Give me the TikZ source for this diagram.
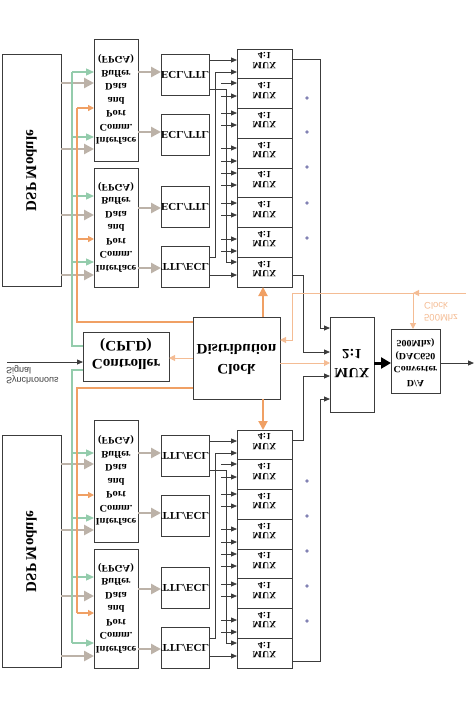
\documentclass[tikz,border=0pt]{standalone}
\usepackage{fontspec}
\setmainfont{Liberation Serif}
\setsansfont{Liberation Sans}
\usepackage{graphicx}
\usetikzlibrary{arrows.meta}
\definecolor{greyc}{RGB}{188,178,168}
\definecolor{greenc}{RGB}{148,204,172}
\definecolor{orangec}{RGB}{240,160,100}
\definecolor{lorangec}{RGB}{244,188,148}
\definecolor{dotc}{RGB}{130,130,180}
\definecolor{linec}{RGB}{60,60,60}
\newcommand\fl[1]{\scalebox{1.05}[-1]{#1}}
\newcommand\fll[1]{\scalebox{1.05}[-1]{\begin{tabular}{@{}c@{}}#1\end{tabular}}}
\newcommand\fllL[1]{\scalebox{1.0}[-1]{\begin{tabular}{@{}l@{}}#1\end{tabular}}}
\begin{document}
\begin{tikzpicture}[x=1pt,y=-1pt,
 box/.style={draw=linec,line width=0.8pt,fill=white,inner sep=0pt,outer sep=0pt},
 txt/.style={inner sep=0pt,outer sep=0pt,font=\bfseries\fontsize{10}{13.5}\selectfont},
 gar/.style={draw=greyc,line width=2.8pt,-{Triangle[length=10pt,width=10pt]}},
 grn/.style={draw=greenc,line width=1.3pt},
 grna/.style={grn,-{Triangle[length=8pt,width=7pt]}},
 org/.style={draw=orangec,line width=1.3pt},
 orgk/.style={draw=orangec,line width=2pt},
 orga/.style={org,-{Triangle[length=6pt,width=6pt]}},
 orgb/.style={orgk,-{Triangle[length=9pt,width=9pt]}},
 lorg/.style={draw=lorangec,line width=1pt},
 lorga/.style={lorg,-{Triangle[length=6pt,width=6pt]}},
 blk/.style={draw=linec,line width=0.8pt},
 blka/.style={blk,-{Triangle[length=6pt,width=5pt]}},
]
\useasboundingbox (0,0) rectangle (474,701);

% ---------------- two identical groups ----------------
\foreach \o/\g in {0/A,381/B}{
 \node[box,minimum width=59pt,minimum height=232pt] (dsp\g) at (31.5,170.5+\o) {};
 \node[txt,font=\bfseries\fontsize{15}{18}\selectfont] at (dsp\g) {\scalebox{1}[-1]{\rotatebox{-90}{DSP Module}}};
 \node[box,minimum width=44pt,minimum height=122pt] (if\g1) at (116,100+\o) {};
 \node[box,minimum width=44pt,minimum height=119pt] (if\g2) at (116,227.5+\o) {};
 \foreach \i in {1,2}{
  \node[txt] at (if\g\i) {\fll{Interface\\Comm.\\Port\\and\\Data\\Buffer\\(FPGA)}};
 }
 \node[box,minimum width=48pt,minimum height=41pt] (e\g1) at (185,75+\o) {};
 \node[box,minimum width=48pt,minimum height=41pt] (e\g2) at (185,134.5+\o) {};
 \node[box,minimum width=48pt,minimum height=41pt] (e\g3) at (185,206.5+\o) {};
 \node[box,minimum width=48pt,minimum height=41pt] (e\g4) at (185,266.5+\o) {};
 \foreach \k in {1,...,8}{
  \node[box,minimum width=55pt,minimum height=29.75pt] (m\g\k) at (264.5,49+\o+\k*29.75-14.875) {};
  \node[txt,font=\bfseries\fontsize{9.5}{9.5}\selectfont] at (264.5,49+\o+\k*29.75-29.75+10.5) {\fll{MUX\\4:1}};
 }
 % DSP -> interface (thick grey)
 \foreach \y/\t in {83/1,149/1,215/2,275/2}{
  \draw[gar] (dsp\g.east |- 0,\y+\o) -- (if\g\t.west |- 0,\y+\o);
 }
 % interface -> ECL (thick grey)
 \draw[gar] (if\g1.east |- 0,72+\o) -- (e\g1.west |- 0,72+\o);
 \draw[gar] (if\g1.east |- 0,132+\o) -- (e\g2.west |- 0,132+\o);
 \draw[gar] (if\g2.east |- 0,208+\o) -- (e\g3.west |- 0,208+\o);
 \draw[gar] (if\g2.east |- 0,268+\o) -- (e\g4.west |- 0,268+\o);
 % green arrows
 \foreach \y/\t in {72/1,137/1,196/2,262/2}{
  \draw[grna] (72,\y+\o) -- (if\g\t.west |- 0,\y+\o);
 }
 % stub inputs into the 4:1 MUXes
 \foreach \y in {83,96,113,125,148,161,173,185,203,215,239,251}{
  \draw[blka] (221,\y+\o) -- (237,\y+\o);
 }
 \draw[blka] (e\g1.east |- 0,60+\o) -- (m\g1.west |- 0,60+\o);
 \draw[blka] (e\g4.east |- 0,275+\o) -- (m\g8.west |- 0,275+\o);
 \draw[blka] (e\g4.east |- 0,257+\o) -- (215,257+\o) -- (215,72+\o) -- (m\g1.west |- 0,72+\o);
 \draw[blka] (e\g1.east |- 0,89+\o) -- (226,89+\o) -- (226,262+\o) -- (m\g8.west |- 0,262+\o);
}
% ECL texts
\foreach \n in {A1,A2,A3}{\node[txt,font=\bfseries\fontsize{10.5}{12}\selectfont] at (e\n) {\fl{ECL/TTL}};}
\foreach \n in {A4,B1,B2,B3,B4}{\node[txt,font=\bfseries\fontsize{10.5}{12}\selectfont] at (e\n) {\fl{TTL/ECL}};}

% dots
\foreach \y in {98,132,167,203,238,481,516,551,586,621}{
 \fill[dotc] (307,\y) circle (1.8pt);
}

% ---------------- centre blocks ----------------
\node[box,minimum width=86pt,minimum height=49pt] (ctl) at (126,356.5) {};
\node[txt,font=\bfseries\fontsize{14.5}{18}\selectfont] at (126,354.5) {\fll{Controller\\(CPLD)}};
\node[box,minimum width=87pt,minimum height=82pt] (clk) at (236.5,358) {};
\node[txt,font=\bfseries\fontsize{14.5}{20}\selectfont] at (236.5,358) {\fll{Clock\\Distribution}};
\node[box,minimum width=44pt,minimum height=95pt] (mx) at (352,364.5) {};
\node[txt,font=\bfseries\fontsize{14}{19}\selectfont] at (352,362.5) {\fll{MUX\\2:1}};
\node[box,minimum width=49pt,minimum height=64pt] (dac) at (415.5,361) {};
\node[txt,font=\bfseries\fontsize{9.5}{13.3}\selectfont] at (415.5,363) {\fll{D/A\\Converter\\(DAC650\\500Mhz)}};

% outputs of 4:1 MUXes to 2:1 MUX
\draw[blka] (mA1.east |- 0,59) -- (320,59) -- (320,328) -- (mx.west |- 0,328);
\draw[blka] (mA8.east |- 0,275) -- (303,275) -- (303,352) -- (mx.west |- 0,352);
\draw[blka] (mB1.east |- 0,440) -- (303,440) -- (303,376) -- (mx.west |- 0,376);
\draw[blka] (mB8.east |- 0,661) -- (320,661) -- (320,399) -- (mx.west |- 0,399);

% 2:1 MUX -> DAC -> out
\draw[draw=black,line width=3pt,-{Triangle[length=10pt,width=11pt]}] (mx.east |- 0,363) -- (dac.west |- 0,363);
\coordinate (out) at (474,363);
\draw[blka,line width=1pt] (dac.east |- 0,363) -- (out);

% clock distribution -> 4:1 MUX columns
\draw[orgb] (263,317) -- (mA8.south -| 263,0);
\draw[orgb] (263,399) -- (mB1.north -| 263,0);
% clock distribution -> controller, -> 2:1 MUX
\draw[lorga] (clk.west |- 0,358) -- (ctl.east |- 0,358);
\draw[lorga] (clk.east |- 0,363) -- (mx.west |- 0,363);
% 500 MHz clock in
\coordinate (clkin) at (466,293);
\coordinate (jn) at (413,293);
\draw[lorga] (clkin) -- (jn);
\draw[lorga] (jn) -- (292,293) -- (292,340) -- (clk.east |- 0,340);
\draw[lorga] (jn) -- (dac.north -| jn);
\node[inner sep=0pt,anchor=west,text=lorangec,font=\sffamily\fontsize{9.5}{11.5}\selectfont] at (424,311) {\fllL{500Mhz\\Clock}};

% thick orange from clock distribution to the interface boxes
\draw[orgk] (clk.west |- 0,322) -- (77,322);
\draw[orgk] (clk.west |- 0,388) -- (77,388);
\draw[org] (77,322.9) -- (77,108);
\draw[org] (77,387.1) -- (77,613);
\draw[orga] (77,108) -- (ifA1.west |- 0,108);
\draw[orga] (77,239) -- (ifA2.west |- 0,239);
\draw[orga] (77,495) -- (ifB1.west |- 0,495);
\draw[orga] (77,613) -- (ifB2.west |- 0,613);

% green lines to controller
\draw[grn] (72,72) -- (72,346) -- (ctl.west |- 0,346);
\draw[grn] (ctl.west |- 0,370) -- (72,370) -- (72,643);

% synchronous signal
\coordinate (sync) at (7,362);
\draw[blka] (sync) -- (ctl.west |- 0,362);
\node[inner sep=0pt,anchor=west,text=linec,font=\sffamily\fontsize{9}{9.5}\selectfont] at (6,374.5) {\fllL{Synchronous\\Signal}};
\end{tikzpicture}
\end{document}
